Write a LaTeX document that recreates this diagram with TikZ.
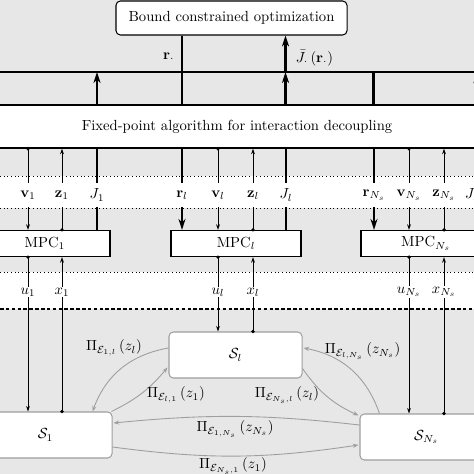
\documentclass[tikz,border=0pt]{standalone}
\usetikzlibrary{arrows.meta,calc}
\definecolor{bggray}{gray}{0.905}
\definecolor{linegray}{gray}{0.62}
\begin{document}
\begin{tikzpicture}[x=0.6826pt,y=-0.6826pt,
  busline/.style={line width=0.9pt},
  sig/.style={line width=0.6pt},
  heavy/.style={line width=1.4pt},
  harr/.style={-{Stealth[length=7.5pt,width=4.8pt,inset=2.4pt]}},
  tarr/.style={-{Stealth[length=3.8pt,width=2.6pt]}},
  dotst/.style={{Circle[length=2.3pt]}-, shorten <=-1.15pt},
  garr/.style={draw=linegray, line width=0.6pt, -{Stealth[length=3.8pt,width=2.8pt]}},
  optbox/.style={draw, fill=white, rounded corners=3pt, line width=0.7pt,
    minimum width=157.7pt, minimum height=23.2pt, inner sep=0pt},
  fpbox/.style={draw, fill=white, line width=0.9pt,
    minimum width=360pt, minimum height=29.35pt, inner sep=0pt},
  mpcbox/.style={draw, fill=white, line width=0.9pt,
    minimum width=88.7pt, minimum height=17.7pt, inner sep=0pt},
  sbox/.style={draw=linegray, fill=white, rounded corners=3pt, line width=0.7pt,
    minimum width=90.8pt, minimum height=31.4pt, inner sep=0pt},
  uplab/.style={inner sep=0pt, minimum height=16.5pt},
  lowlab/.style={inner sep=0.6pt},
  plab/.style={inner sep=0pt}]
\useasboundingbox (0,0) rectangle (474,474);
\clip (0,0) rectangle (474,474);
\fill[bggray] (0,0) rectangle (474,474);
\fill[white] (0,176) rectangle (474,208);
\fill[white] (0,272) rectangle (474,309);
\draw[line width=0.5pt, dotted] (0,176) -- (474,176);
\draw[line width=0.5pt, dotted] (0,208) -- (474,208);
\draw[line width=0.5pt, dotted] (0,272) -- (474,272);
\draw[line width=0.9pt, dash pattern=on 2.4pt off 1.6pt] (0,309) -- (474,309);

% columns
\coordinate (cJ1) at (97,0);
\coordinate (crl) at (182,0);
\coordinate (cJl) at (285.5,0);
\coordinate (crNs) at (373.5,0);
\coordinate (cJNs) at (477,0);
\coordinate (busL) at (0,72);
\coordinate (busR) at (474,72);

% blocks
\node[optbox] (opt) at (231.5,18) {Bound constrained optimization};
\node[fpbox] (fp) at (237,126.5) {Fixed-point algorithm for interaction decoupling};
\node[mpcbox] (mpc1) at (45,243.5) {MPC$_1$};
\node[mpcbox] (mpcl) at (236,243.5) {MPC$_l$};
\node[mpcbox] (mpcNs) at (426,243.5) {MPC$_{N_s}$};
\node[sbox] (S1) at (45.5,435) {$\mathcal{S}_1$};
\node[sbox] (Sl) at (235.5,355) {$\mathcal{S}_l$};
\node[sbox] (SNs) at (426.5,437) {$\mathcal{S}_{N_s}$};

% upper bus
\draw[busline] (busL) -- (busR);
\draw[heavy] (crl |- opt.south) -- (crl |- fp.north);
\draw[heavy,harr] (cJ1 |- fp.north) -- (cJ1 |- busL);
\draw[heavy,harr] (cJl |- fp.north) -- (cJl |- busL);
\draw[heavy,harr] (cJl |- busL) -- (cJl |- opt.south);
\draw[heavy] (crNs |- busL) -- (crNs |- fp.north);
\draw[heavy,harr] (cJNs |- fp.north) -- (cJNs |- busL);
\node[anchor=east, inner sep=1pt] (rdot) at (176,57) {$\mathbf{r}_{\cdot}$};
\node[anchor=west, inner sep=1pt] (Jbar) at (294,58) {$\bar{J}_{\cdot}\left(\mathbf{r}_{\cdot}\right)$};

% upper signal labels
\node[uplab] (lv1) at (28,195) {$\mathbf{v}_1$};
\node[uplab] (lz1) at (62,195) {$\mathbf{z}_1$};
\node[uplab] (lJ1) at (97,195) {$J_1$};
\node[uplab] (lrl) at (182,195) {$\mathbf{r}_l$};
\node[uplab] (lvl) at (218,195) {$\mathbf{v}_l$};
\node[uplab] (lzl) at (253,195) {$\mathbf{z}_l$};
\node[uplab] (lJl) at (286,195) {$J_l$};
\node[uplab] (lrNs) at (374,195) {$\mathbf{r}_{N_s}$};
\node[uplab] (lvNs) at (409,195) {$\mathbf{v}_{N_s}$};
\node[uplab] (lzNs) at (444,195) {$\mathbf{z}_{N_s}$};
\node[uplab] (lJNs) at (477,195) {$J_{N_s}$};

% v signals: fp -> MPC
\foreach \v/\m in {lv1/mpc1, lvl/mpcl, lvNs/mpcNs}{
  \draw[sig,dotst] (\v |- fp.south) -- (\v.north);
  \draw[sig,tarr] (\v.south) -- (\v |- \m.north);
}
% z signals: MPC -> fp
\foreach \z/\m in {lz1/mpc1, lzl/mpcl, lzNs/mpcNs}{
  \draw[sig,dotst] (\z |- \m.north) -- (\z.south);
  \draw[sig,tarr] (\z.north) -- (\z |- fp.south);
}
% J signals
\foreach \j/\m in {lJ1/mpc1, lJl/mpcl, lJNs/mpcNs}{
  \draw[heavy] (\j |- \m.north) -- (\j.south);
  \draw[heavy] (\j.north) -- (\j |- fp.south);
}
% r signals
\foreach \r/\m in {lrl/mpcl, lrNs/mpcNs}{
  \draw[heavy] (\r |- fp.south) -- (\r.north);
  \draw[heavy,harr] (\r.south) -- (\r |- \m.north);
}

% lower labels
\node[lowlab] (lu1) at (28,292) {$u_1$};
\node[lowlab] (lx1) at (62,292) {$x_1$};
\node[lowlab] (lul) at (218,292) {$u_l$};
\node[lowlab] (lxl) at (253,292) {$x_l$};
\node[lowlab] (luNs) at (409,292) {$u_{N_s}$};
\node[lowlab] (lxNs) at (444,292) {$x_{N_s}$};
\foreach \u/\m/\s in {lu1/mpc1/S1, lul/mpcl/Sl, luNs/mpcNs/SNs}{
  \draw[sig,dotst] (\u |- \m.south) -- (\u.north);
  \draw[sig,tarr] (\u.south) -- (\u |- \s.north);
}
\foreach \x/\m/\s in {lx1/mpc1/S1, lxl/mpcl/Sl, lxNs/mpcNs/SNs}{
  \draw[sig,dotst] (\x |- \s.north) -- (\x.south);
  \draw[sig,tarr] (\x.north) -- (\x |- \m.south);
}

% interaction arrows
\draw[garr] ($(Sl.west)+(0,-7)$) to[bend right=30] ($(S1.north east)+(-20,0)$);
\draw[garr] ($(S1.north east)+(-1,0)$) to[bend right=12] ($(Sl.south west)+(-1,-11)$);
\draw[garr] ($(SNs.north west)+(20,0)$) to[bend right=30] ($(Sl.east)+(1,-7)$);
\draw[garr] ($(Sl.south east)+(0,-10)$) to[bend right=15] ($(SNs.north west)+(-1,2)$);
\draw[garr] ($(SNs.west)+(0,-12)$) to[bend right=6] ($(S1.east)+(1,-12)$);
\draw[garr] ($(S1.east)+(0,12)$) to[bend right=8] ($(SNs.west)+(-1,8)$);

\node[plab] (p1) at (114,348) {$\Pi_{\mathcal{E}_{1,l}}\left(z_l\right)$};
\node[plab] (p2) at (176,395) {$\Pi_{\mathcal{E}_{l,1}}\left(z_1\right)$};
\node[plab] (p3) at (362.5,351) {$\Pi_{\mathcal{E}_{l,N_s}}\left(z_{N_s}\right)$};
\node[plab] (p4) at (287,395) {$\Pi_{\mathcal{E}_{N_s,l}}\left(z_l\right)$};
\node[plab] (p5) at (235,429) {$\Pi_{\mathcal{E}_{1,N_s}}\left(z_{N_s}\right)$};
\node[plab] (p6) at (233,466) {$\Pi_{\mathcal{E}_{N_s,1}}\left(z_1\right)$};
\end{tikzpicture}
\end{document}
